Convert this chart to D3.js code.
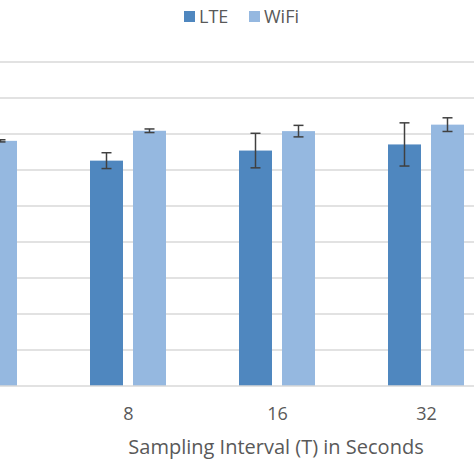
<!DOCTYPE html>
<html>
<head>
<meta charset="utf-8">
<script src="https://cdn.jsdelivr.net/npm/d3@7"></script>
<style>
  html, body { margin: 0; padding: 0; background: #fff; }
  svg { display: block; font-family: "Open Sans", sans-serif; }
</style>
</head>
<body>
<div id="chart"></div>
<script>
// Bar chart: LTE vs WiFi per sampling interval (left part of the chart is cropped)

const categories = ["4", "8", "16", "32"];
const seriesNames = ["LTE", "WiFi"];
const lteValues  = [64.0, 62.6, 65.4, 67.1];
const lteErrors  = [2.0, 2.2, 4.8, 6.0];
const wifiValues = [68.1, 70.9, 70.8, 72.6];
const wifiErrors = [0.3, 0.5, 1.6, 1.9];
const yTicks = [0, 10, 20, 30, 40, 50, 60, 70, 80, 90];

const colors = { LTE: "#4f87bf", WiFi: "#95b8e0" };

const width = 474;
const height = 474;

const svg = d3.select("#chart")
  .append("svg")
  .attr("width", width)
  .attr("height", height);

// x : centre de chaque groupe, puis position de chaque barre dans le groupe
const x0 = d3.scalePoint().domain(categories).range([-21, 426]);
const x1 = d3.scaleBand().domain(seriesNames).range([-38, 38]).paddingInner(0.2326);
const y = d3.scaleLinear().domain([0, 90]).range([386, 62]);

// Grille horizontale (les libellés de l'axe y sont hors cadre à gauche)
svg.append("g")
  .selectAll("line")
  .data(yTicks.slice(1))
  .join("line")
  .attr("x1", -120)
  .attr("x2", width)
  .attr("y1", d => y(d))
  .attr("y2", d => y(d))
  .attr("stroke", "#d9d9d9")
  .attr("stroke-width", 1.3);

// Barres
const data = categories.map((c, i) => ({
  cat: c,
  bars: [
    { key: "LTE", value: lteValues[i], err: lteErrors[i] },
    { key: "WiFi", value: wifiValues[i], err: wifiErrors[i] }
  ]
}));

const groups = svg.append("g")
  .selectAll("g")
  .data(data)
  .join("g")
  .attr("transform", d => `translate(${x0(d.cat)},0)`);

groups.selectAll("rect")
  .data(d => d.bars)
  .join("rect")
  .attr("x", d => x1(d.key))
  .attr("y", d => y(d.value))
  .attr("width", x1.bandwidth())
  .attr("height", d => y(0) - y(d.value))
  .attr("fill", d => colors[d.key]);

// Barres d'erreur
const err = groups.selectAll("g.err")
  .data(d => d.bars)
  .join("g")
  .attr("class", "err")
  .attr("transform", d => `translate(${x1(d.key) + x1.bandwidth() / 2},0)`)
  .attr("stroke", "#404040")
  .attr("stroke-width", 1.5);

err.append("line")
  .attr("y1", d => y(d.value + d.err))
  .attr("y2", d => y(d.value - d.err));
err.append("line")
  .attr("x1", -5).attr("x2", 5)
  .attr("y1", d => y(d.value + d.err))
  .attr("y2", d => y(d.value + d.err));
err.append("line")
  .attr("x1", -5).attr("x2", 5)
  .attr("y1", d => y(d.value - d.err))
  .attr("y2", d => y(d.value - d.err));

// Axe x (seules les catégories visibles dans le cadre ont un libellé)
const xAxis = svg.append("g")
  .attr("transform", `translate(0,${y(0)})`)
  .call(d3.axisBottom(x0)
    .tickValues(categories.filter(c => x0(c) > 0))
    .tickSize(0)
    .tickPadding(21));
xAxis.select(".domain")
  .attr("d", `M-120,0H${width}`)
  .attr("stroke", "#d9d9d9")
  .attr("stroke-width", 1.3);
xAxis.selectAll("text")
  .style("font-family", "'Open Sans', sans-serif")
  .style("font-size", "18px")
  .attr("fill", "#595959");

// Titre de l'axe x
svg.append("text")
  .attr("x", 276)
  .attr("y", 454)
  .attr("text-anchor", "middle")
  .style("font-size", "20px")
  .attr("fill", "#595959")
  .text("Sampling Interval (T) in Seconds");

// Légende
const legend = svg.append("g").attr("transform", "translate(184,0)");
const legendItems = legend.selectAll("g")
  .data(seriesNames)
  .join("g")
  .attr("transform", (d, i) => `translate(${i * 65},0)`);
legendItems.append("rect")
  .attr("x", 0)
  .attr("y", 11)
  .attr("width", 11)
  .attr("height", 11)
  .attr("fill", d => colors[d]);
legendItems.append("text")
  .attr("x", 15)
  .attr("y", 22.5)
  .style("font-size", "18px")
  .attr("fill", "#595959")
  .text(d => d);
</script>
</body>
</html>
